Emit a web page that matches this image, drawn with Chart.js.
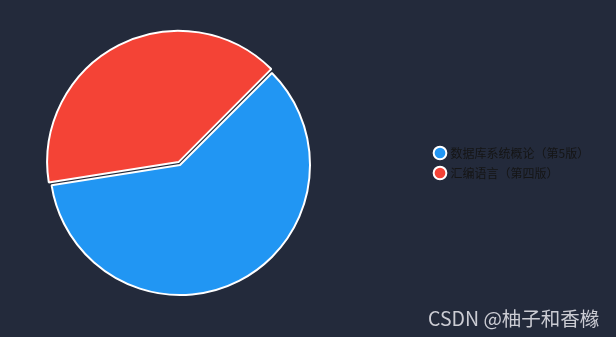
<!DOCTYPE html>
<html>
<head>
<meta charset="utf-8">
<script src="https://cdn.jsdelivr.net/npm/chart.js@4/dist/chart.umd.min.js"></script>
<style>
  html, body { margin: 0; padding: 0; background: #232a3b; overflow: hidden; }
  #wrap { position: relative; width: 616px; height: 337px; }
  canvas { display: block; }
</style>
</head>
<body>
<div id="wrap"><canvas id="c" width="616" height="337"></canvas></div>
<script>
const categories = ['数据库系统概论（第5版）', '汇编语言（第四版）'];
const values = [60, 40];
const sliceColors = ['#2196f3', '#f44336'];
const sliceOffsets = [0, 13];
const watermark = 'CSDN @柚子和香橼';

const placeBoxes = {
  id: 'placeBoxes',
  afterLayout(chart) {
    const a = chart.chartArea;
    a.left = 45; a.right = 315; a.top = 30; a.bottom = 300;
    a.width = 270; a.height = 270;
    const lg = chart.legend;
    if (lg) {
      const w = lg.width;
      lg.left = 427.5; lg.right = 427.5 + w;
      lg.top = 0; lg.bottom = 326; lg.height = 326;
    }
  }
};

const watermarkPlugin = {
  id: 'watermark',
  afterDraw(chart) {
    const ctx = chart.ctx;
    ctx.save();
    ctx.font = '19.5px "Noto Sans CJK SC", "Noto Sans", sans-serif';
    ctx.fillStyle = 'rgba(222,222,228,0.9)';
    ctx.textBaseline = 'alphabetic';
    ctx.textAlign = 'left';
    ctx.fillText(watermark, 428, 326);
    ctx.restore();
  }
};

new Chart(document.getElementById('c'), {
  type: 'pie',
  data: {
    labels: categories,
    datasets: [{
      data: values,
      backgroundColor: sliceColors,
      borderColor: '#ffffff',
      borderWidth: 2,
      offset: sliceOffsets,
      hoverOffset: 0,
      radius: 130,
      clip: false
    }]
  },
  options: {
    responsive: false,
    animation: false,
    rotation: 45,
    layout: { padding: 0 },
    plugins: {
      legend: {
        position: 'right',
        align: 'center',
        labels: {
          usePointStyle: true,
          pointStyle: 'circle',
          boxWidth: 9,
          boxHeight: 9,
          padding: 8,
          color: '#151515',
          font: { size: 12, family: '"Noto Sans CJK SC", "Noto Sans", sans-serif' }
        }
      },
      tooltip: { enabled: false }
    }
  },
  plugins: [placeBoxes, watermarkPlugin]
});
</script>
</body>
</html>
